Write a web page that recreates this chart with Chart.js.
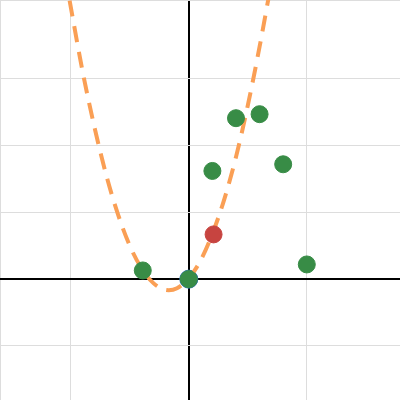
<!DOCTYPE html>
<html>
<head>
<script src="https://cdn.jsdelivr.net/npm/chart.js@4"></script>
<style>html,body{margin:0;padding:0;background:#fff}</style>
</head>
<body>
<canvas id="c" width="400" height="400" style="width:400px;height:400px"></canvas>
<script>
const curveX = [-1.01, -0.9, -0.8, -0.7, -0.6, -0.5, -0.4, -0.3, -0.2, -0.17, -0.1, 0, 0.1, 0.2, 0.3, 0.4, 0.5, 0.6, 0.68];
const curveY = [4.17, 3.11, 2.28, 1.56, 0.97, 0.50, 0.16, -0.06, -0.16, -0.165, -0.135, 0.01, 0.28, 0.68, 1.19, 1.83, 2.60, 3.48, 4.25];
const greenX = [-0.39, 0.2, 0.4, 0.6, 0.8, 1.0, 0];
const greenY = [0.13, 1.62, 2.41, 2.47, 1.72, 0.22, 0];
const redX = [0.21];
const redY = [0.67];
const blueX = [0];
const blueY = [0];

const pts = (xs, ys) => xs.map((x, i) => ({x: x, y: ys[i]}));
const gridOpts = {
  color: c => c.tick.value === 0 ? '#000' : '#ddd',
  lineWidth: c => c.tick.value === 0 ? 2 : 1,
  drawTicks: false
};

new Chart(document.getElementById('c'), {
  type: 'scatter',
  data: {
    datasets: [
      { data: pts(greenX, greenY), backgroundColor: '#388c46', borderColor: '#388c46', pointRadius: 8.5, order: 2 },
      { data: pts(redX, redY), backgroundColor: '#c74440', borderColor: '#c74440', pointRadius: 8.5, order: 1 },
      { data: pts(blueX, blueY), backgroundColor: '#2d70b3', borderColor: '#2d70b3', pointRadius: 9, order: 4 },
      { data: pts(curveX, curveY), showLine: true, borderColor: '#fa9f55', borderWidth: 4, borderDash: [16, 10],
        pointRadius: 0, tension: 0.4, cubicInterpolationMode: 'monotone', order: 3 }
    ]
  },
  options: {
    responsive: false,
    animation: false,
    layout: { padding: 0, autoPadding: false },
    plugins: { legend: { display: false }, tooltip: { enabled: false } },
    scales: {
      x: { type: 'linear', min: -1.6, max: 1.79, ticks: { display: false, stepSize: 1 }, grid: gridOpts, border: { display: false } },
      y: { type: 'linear', min: -1.81, max: 4.18, ticks: { display: false, stepSize: 1 }, grid: gridOpts, border: { display: false } }
    }
  }
});
</script>
</body>
</html>
